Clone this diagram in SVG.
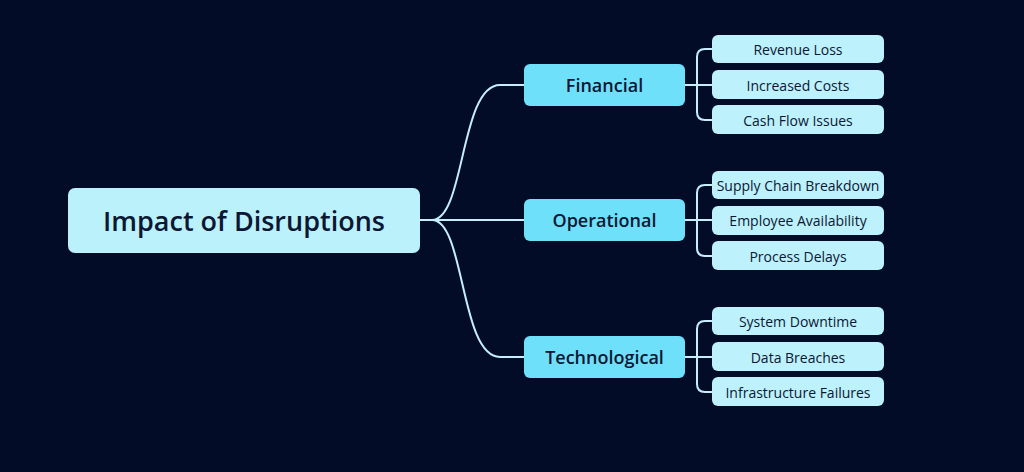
<svg xmlns="http://www.w3.org/2000/svg" width="1024" height="472" viewBox="0 0 1024 472">
<style>
.c{fill:none;stroke:#c6eefa;stroke-width:2}
.root{fill:#bbf1fb}
.br{fill:#6ee0f9}
.lf{fill:#bdf1fb}
text{font-family:"Open Sans","DejaVu Sans",sans-serif;fill:#0b1733;text-anchor:middle;dominant-baseline:central}
.tr{font-size:27px;font-weight:600}
.tb{font-size:18px;font-weight:600}
.tl{font-size:14px}
</style>
<rect width="1024" height="472" fill="#020c27"/>
<g id="connectors">
<path class="c" d="M420,220 L432,220 C465,220 460,85 500,85 L524,85"/>
<path class="c" d="M420,220 L524,220"/>
<path class="c" d="M420,220 L432,220 C465,220 460,357 500,357 L524,357"/>
<path class="c" d="M685,85 L712,85 M712,49 L705,49 Q697,49 697,57 L697,112 Q697,120 705,120 L712,120"/>
<path class="c" d="M685,220 L712,220 M712,185 L705,185 Q697,185 697,193 L697,248 Q697,256 705,256 L712,256"/>
<path class="c" d="M685,357 L712,357 M712,321 L705,321 Q697,321 697,329 L697,384 Q697,392 705,392 L712,392"/>
</g>
<g id="root"><rect class="root" x="68" y="188" width="352" height="65" rx="7"/><text class="tr" x="244" y="220.5">Impact of Disruptions</text></g>
<g id="financial"><rect class="br" x="524" y="64" width="161" height="42" rx="6"/><text class="tb" x="604.5" y="85">Financial</text></g>
<g id="operational"><rect class="br" x="524" y="199" width="161" height="42" rx="6"/><text class="tb" x="604.5" y="220">Operational</text></g>
<g id="technological"><rect class="br" x="524" y="336" width="161" height="42" rx="6"/><text class="tb" x="604.5" y="357">Technological</text></g>
<g id="l1"><rect class="lf" x="712" y="35" width="172" height="28" rx="6"/><text class="tl" x="798" y="49">Revenue Loss</text></g>
<g id="l2"><rect class="lf" x="712" y="70" width="172" height="29" rx="6"/><text class="tl" x="798" y="85">Increased Costs</text></g>
<g id="l3"><rect class="lf" x="712" y="105" width="172" height="29" rx="6"/><text class="tl" x="798" y="120">Cash Flow Issues</text></g>
<g id="l4"><rect class="lf" x="712" y="171" width="172" height="28" rx="6"/><text class="tl" x="798" y="185">Supply Chain Breakdown</text></g>
<g id="l5"><rect class="lf" x="712" y="206" width="172" height="29" rx="6"/><text class="tl" x="798" y="220.5">Employee Availability</text></g>
<g id="l6"><rect class="lf" x="712" y="241" width="172" height="29" rx="6"/><text class="tl" x="798" y="256">Process Delays</text></g>
<g id="l7"><rect class="lf" x="712" y="307" width="172" height="28" rx="6"/><text class="tl" x="798" y="321">System Downtime</text></g>
<g id="l8"><rect class="lf" x="712" y="342" width="172" height="29" rx="6"/><text class="tl" x="798" y="357">Data Breaches</text></g>
<g id="l9"><rect class="lf" x="712" y="377" width="172" height="29" rx="6"/><text class="tl" x="798" y="392">Infrastructure Failures</text></g>
</svg>
